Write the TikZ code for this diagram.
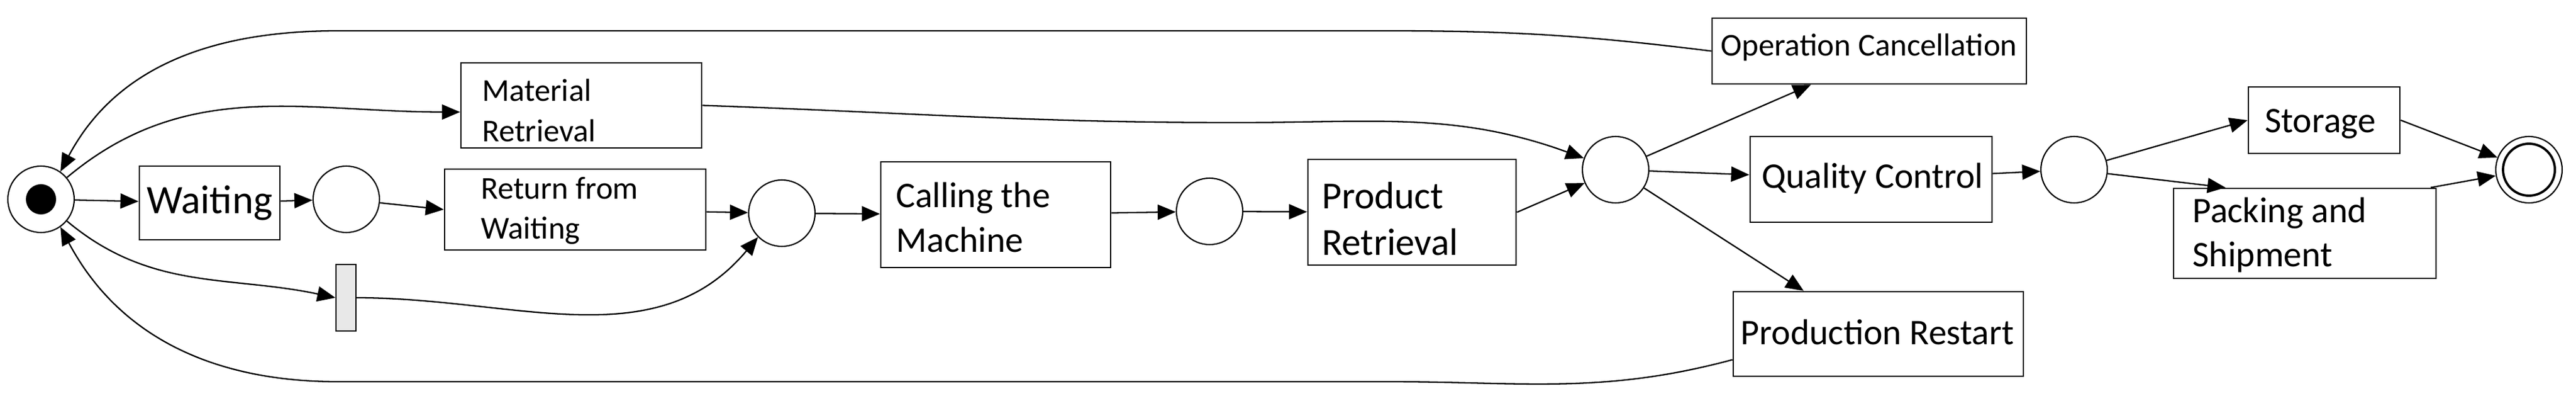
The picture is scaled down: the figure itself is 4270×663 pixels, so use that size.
\documentclass[tikz,border=0pt]{standalone}
\usepackage{fontspec}
\setmainfont{Carlito}
\usetikzlibrary{arrows.meta}
\begin{document}
\begin{tikzpicture}[x=0.2mm,y=-0.2mm,
  box/.style={draw,line width=1.6pt,rectangle,inner sep=0pt},
  place/.style={draw,line width=1.2pt,circle,minimum size=22mm,inner sep=0pt},
  lbl/.style={font=\fontsize{30}{38}\selectfont,align=left,inner sep=0pt},
  lbll/.style={font=\fontsize{34}{42}\selectfont,align=left,inner sep=0pt},
  big/.style={font=\fontsize{34}{40}\selectfont,inner sep=0pt},
  arr/.style={line width=1.3pt,-{Triangle[length=6mm,width=5mm]}},
  ln/.style={line width=1.3pt}]
\useasboundingbox (0,0) rectangle (4270,663);
% places
\node[place] (start) at (68,330) {};
\fill (start.center) circle[radius=5mm];
\node[place] (p1) at (574,330) {};
\node[place] (p2) at (1296,353) {};
\node[place] (p3) at (2005,350) {};
\node[place] (p4) at (2678,281) {};
\node[place] (p5) at (3438,281) {};
\node[place] (end) at (4192,281) {};
\draw[line width=2.2pt] (end.center) circle[radius=8.6mm];
% transitions
\node[box,minimum width=46.6mm,minimum height=24.4mm] (wait) at (347.5,336) {};
\node[big,font=\fontsize{38}{44}\selectfont] at (wait.center) {Waiting};
\node[box,minimum width=86.6mm,minimum height=26.8mm] (ret) at (953.5,347) {};
\node[lbl,anchor=west] at (797,349) {Return from\\Waiting};
\node[box,minimum width=79.8mm,minimum height=28.2mm] (mr) at (963.5,174.5) {};
\node[lbl,anchor=west] at (799,183) {Material\\Retrieval};
\node[box,minimum width=76.2mm,minimum height=35mm] (call) at (1650.5,355.5) {};
\node[lbll,anchor=west] at (1485,360) {Calling the\\Machine};
\node[box,minimum width=69mm,minimum height=35mm] (prod) at (2340.5,351.5) {};
\node[lbll,anchor=west,font=\fontsize{36}{44}\selectfont] at (2191,362) {Product\\Retrieval};
\node[box,minimum width=104.2mm,minimum height=21.8mm] (oc) at (3098.5,84.5) {};
\node[lbl] at (3098,78) {Operation Cancellation};
\node[box,minimum width=80.2mm,minimum height=28.4mm] (qc) at (3101.5,297) {};
\node[big] at (3104,296) {Quality Control};
\node[box,minimum width=96.2mm,minimum height=28mm] (pr) at (3113.5,553) {};
\node[big] at (3112,550) {Production Restart};
\node[box,minimum width=50.2mm,minimum height=22mm] (sto) at (3852.5,199) {};
\node[lbll] at (3846,205) {Storage};
\node[box,minimum width=87mm,minimum height=29.8mm] (pack) at (3820.5,386.5) {};
\node[lbll,anchor=west] at (3634,389) {Packing and\\Shipment};
\node[box,line width=1.2pt,fill=black!9,minimum width=6.6mm,minimum height=22mm] (t) at (573.5,493) {};
% helper coordinates
\coordinate (tr) at (2300,51);
\coordinate (tl) at (560,51);
\coordinate (br) at (2300,632);
\coordinate (bl) at (560,632);
\coordinate (mid) at (2050,203);
% arcs
\draw[arr] (start) -- (wait);
\draw[arr] (wait) -- (p1);
\draw[arr] (p1) -- (ret.west);
\draw[arr] (ret) -- (p2);
\draw[arr] (p2) -- (call);
\draw[arr] (call) -- (p3);
\draw[arr] (p3) -- (prod);
\draw[arr] (prod.east) -- (p4);
\draw[arr] (start.40) to[out=40,in=180] ([yshift=-2.2mm]mr.west);
\draw[arr] (start.-40) to[out=-40,in=168] (t.west);
\draw[arr] (t.east) to[out=0,in=-130] (p2.-135);
\draw[ln] (mr.east) to[out=-2,in=180] (mid);
\draw[arr] (mid) to[out=0,in=160] (p4.160);
\draw[arr] (p4) -- (oc.-150);
\draw[arr] (p4) -- (qc);
\draw[arr] (p4) -- (pr.150);
\draw[arr] (qc) -- (p5);
\draw[arr] (p5) -- (sto.west);
\draw[arr] (p5) -- (pack.150);
\draw[arr] (sto.east) -- (end);
\draw[arr] (pack.20) -- (end);
\draw[ln] (oc.west) to[out=173,in=0] (tr) -- (tl);
\draw[arr] (tl) to[out=180,in=62] (start.55);
\draw[ln] (pr.190) to[out=195,in=0] (br) -- (bl);
\draw[arr] (bl) to[out=180,in=-62] (start.-55);
\end{tikzpicture}
\end{document}
